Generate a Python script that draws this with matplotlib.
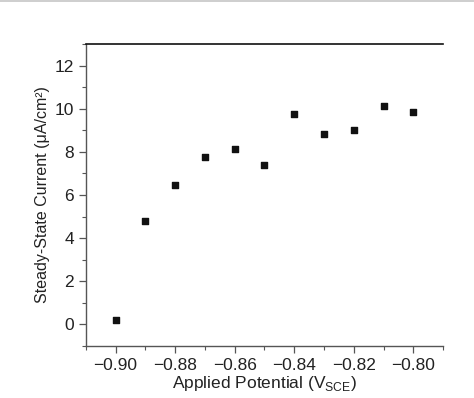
import matplotlib
matplotlib.use('Agg')
import matplotlib.pyplot as plt
from matplotlib import ticker
from matplotlib.patches import Rectangle

plt.rcParams['font.family'] = 'Liberation Sans'
plt.rcParams['mathtext.fontset'] = 'custom'
plt.rcParams['mathtext.rm'] = 'Liberation Sans'

# Applied potential (V vs SCE) and steady-state current (uA/cm^2)
potential = [-0.90, -0.89, -0.88, -0.87, -0.86, -0.85, -0.84, -0.83, -0.82, -0.81, -0.80]
current = [0.2, 4.78, 6.48, 7.76, 8.15, 7.41, 9.75, 8.84, 9.03, 10.14, 9.83]

x_ticks = [-0.90, -0.88, -0.86, -0.84, -0.82, -0.80]
x_labels = ['\u22120.90', '\u22120.88', '\u22120.86', '\u22120.84', '\u22120.82', '\u22120.80']
y_ticks = [0, 2, 4, 6, 8, 10, 12]

fig = plt.figure(figsize=(4.74, 3.98), dpi=100)
ax = fig.add_axes([0.181, 0.131, 0.754, 0.758])

# thin grey band along the top of the image
fig.patches.append(Rectangle((0, 0.994), 1, 0.006, transform=fig.transFigure,
                             facecolor='#cfcfcf', edgecolor='none'))

ax.scatter(potential, current, marker='s', s=15, color='#111111', zorder=3)

ax.set_xlim(-0.91, -0.79)
ax.set_ylim(-1, 13)
ax.set_xticks(x_ticks)
ax.set_xticklabels(x_labels)
ax.set_yticks(y_ticks)
ax.xaxis.set_minor_locator(ticker.MultipleLocator(0.01))
ax.yaxis.set_minor_locator(ticker.MultipleLocator(1))

ax.spines['right'].set_visible(False)
for s in ['left', 'bottom']:
    ax.spines[s].set_color('#555555')
    ax.spines[s].set_linewidth(1.0)
ax.spines['top'].set_color('#111111')
ax.spines['top'].set_linewidth(1.2)

ax.tick_params(which='major', direction='out', length=5, width=0.9,
               color='#555555', labelsize=12.5, labelcolor='#222222')
ax.tick_params(which='minor', direction='out', length=3, width=0.8, color='#555555')

ax.set_xlabel('Applied Potential (V$_{\\mathrm{SCE}}$)', fontsize=12.5,
              color='#222222', labelpad=1)
ax.set_ylabel('Steady-State Current (\u03bcA/cm\u00b2)', fontsize=11.5,
              color='#222222', labelpad=3)

plt.savefig('out.png', dpi=100, facecolor='white')
